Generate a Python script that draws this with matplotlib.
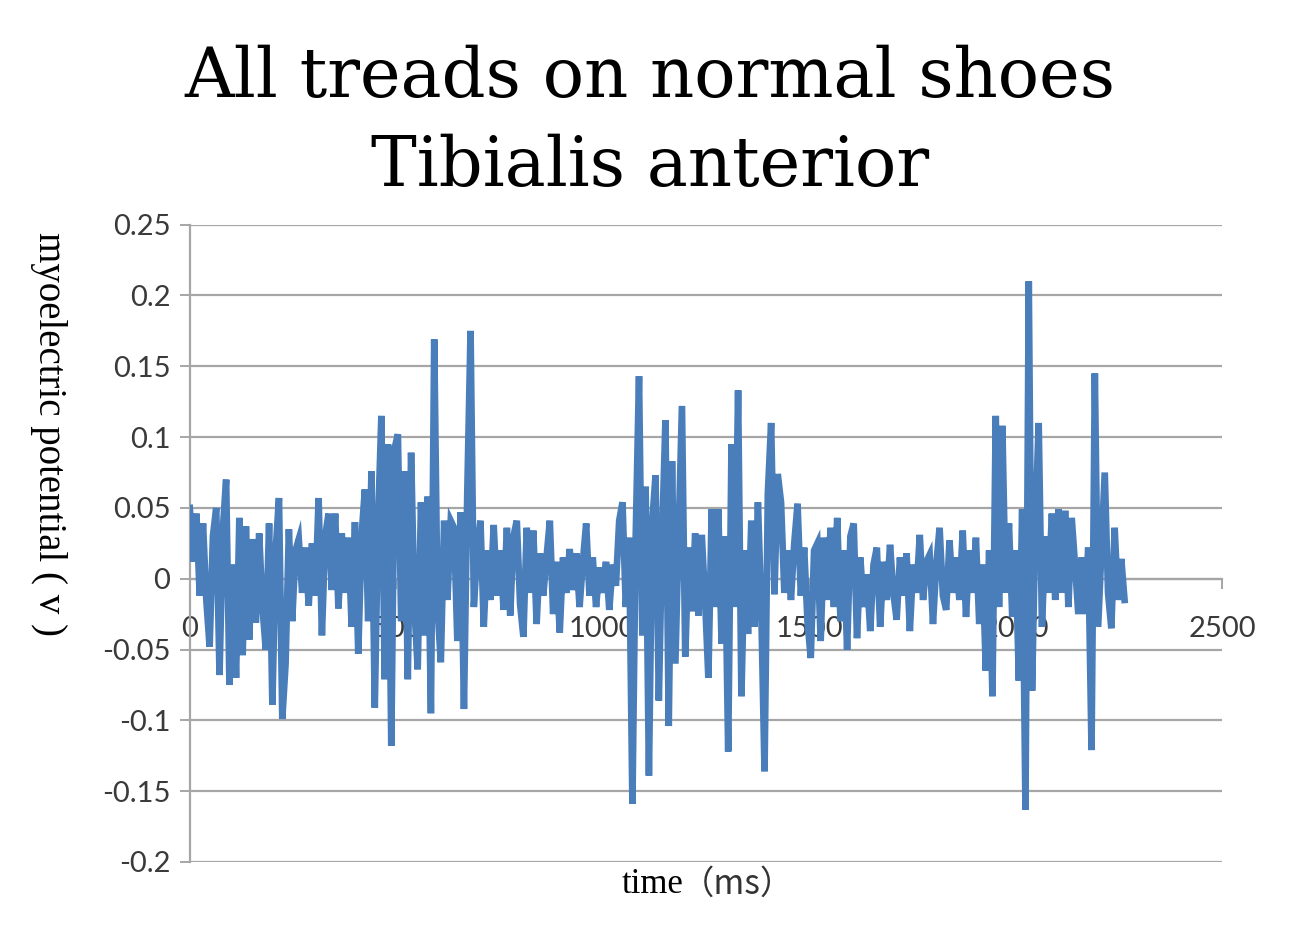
import matplotlib
matplotlib.use("Agg")
import matplotlib.pyplot as plt
import numpy as np

sample_ms = 8
potential_v = [
    0.050, 0.012, 0.046, -0.012, 0.039, -0.015, -0.048, 0.030, 0.050, -0.068,
    0.035, 0.070, -0.075, 0.010, -0.070, 0.043, -0.054, 0.037, -0.043, 0.028,
    -0.031, 0.032, -0.020, -0.050, 0.039, -0.089, 0.020, 0.057, -0.099, -0.060,
    0.035, -0.030, 0.020, 0.028, -0.010, 0.022, -0.019, 0.025, -0.012, 0.057,
    -0.040, 0.030, 0.046, -0.008, 0.046, -0.021, 0.032, -0.010, 0.029, -0.034,
    0.040, -0.053, 0.030, 0.063, -0.030, 0.076, -0.091, 0.040, 0.115, -0.071,
    0.095, -0.118, 0.092, 0.102, -0.030, 0.076, -0.071, 0.089, -0.020, -0.064,
    0.054, -0.040, 0.058, -0.095, 0.169, -0.020, -0.059, 0.041, -0.015, 0.041,
    0.036, -0.044, 0.047, -0.092, 0.060, 0.175, -0.020, 0.020, 0.041, -0.034,
    0.020, -0.015, 0.038, -0.012, 0.020, -0.022, 0.036, -0.026, 0.030, 0.041,
    -0.018, -0.041, 0.036, -0.010, 0.034, -0.032, 0.018, -0.012, 0.015, 0.041,
    -0.025, 0.012, -0.038, 0.015, -0.010, 0.021, -0.008, 0.018, -0.020, 0.012,
    0.039, -0.012, 0.015, -0.020, 0.008, -0.010, 0.012, -0.022, 0.010, -0.005,
    0.041, 0.054, -0.020, 0.029, -0.159, 0.030, 0.143, -0.040, 0.065, -0.139,
    0.040, 0.073, -0.086, 0.030, 0.112, -0.104, 0.083, -0.060, 0.030, 0.122,
    -0.055, 0.022, -0.023, 0.032, -0.026, 0.031, -0.015, -0.070, 0.049, -0.020,
    0.049, -0.046, 0.030, -0.122, 0.095, -0.020, 0.133, -0.083, 0.020, -0.039,
    0.041, -0.034, 0.054, -0.020, -0.136, 0.060, 0.110, -0.011, 0.074, 0.054,
    -0.010, 0.020, -0.015, 0.025, 0.053, -0.012, 0.022, -0.030, -0.056, 0.020,
    0.025, -0.044, 0.029, -0.015, 0.036, -0.020, 0.043, -0.030, 0.020, -0.050,
    0.030, 0.039, -0.042, 0.015, -0.020, 0.003, -0.037, 0.010, 0.022, -0.034,
    0.012, -0.015, 0.024, -0.010, -0.029, 0.015, -0.012, 0.018, -0.037, 0.010,
    -0.010, 0.031, -0.015, 0.012, 0.017, -0.032, 0.010, 0.036, -0.012, -0.022,
    0.027, -0.010, 0.015, -0.015, 0.034, -0.027, 0.020, -0.010, 0.029, -0.032,
    0.010, -0.065, 0.020, -0.083, 0.115, -0.020, 0.108, -0.010, 0.039, -0.027,
    0.020, -0.072, 0.049, -0.163, 0.210, -0.079, 0.040, 0.110, -0.034, 0.030,
    -0.010, 0.046, -0.015, 0.049, -0.010, 0.048, -0.020, 0.043, 0.010, -0.025,
    0.015, -0.025, 0.022, -0.121, 0.145, -0.034, 0.020, 0.075, -0.010, -0.035,
    0.036, -0.015, 0.014, -0.015,
]
time_ms = np.arange(len(potential_v)) * sample_ms

y_ticks = [-0.2, -0.15, -0.1, -0.05, 0, 0.05, 0.1, 0.15, 0.2, 0.25]
y_labels = ["-0.2", "-0.15", "-0.1", "-0.05", "0", "0.05", "0.1", "0.15", "0.2", "0.25"]
x_ticks = [0, 500, 1000, 1500, 2000, 2500]

fig = plt.figure(figsize=(13, 9.4), dpi=100)
ax = fig.add_axes([0.146, 0.083, 0.794, 0.678])

ax.plot(time_ms, potential_v, color="#4a7ebb", lw=4.8, zorder=3,
        solid_joinstyle="miter")

ax.set_xlim(0, 2500)
ax.set_ylim(-0.2, 0.25)
ax.set_yticks(y_ticks)
ax.set_yticklabels(y_labels)
ax.set_xticks(x_ticks)
ax.yaxis.grid(True, color="#a6a6a6", lw=1.6)
ax.set_axisbelow(True)

for side in ("top", "right"):
    ax.spines[side].set_visible(False)
ax.spines["left"].set_color("#a6a6a6")
ax.spines["left"].set_linewidth(1.6)
ax.spines["bottom"].set_position(("data", 0))
ax.spines["bottom"].set_color("#a6a6a6")
ax.spines["bottom"].set_linewidth(1.6)

ax.tick_params(axis="y", length=7, width=1.4, color="#a6a6a6", pad=7,
               labelsize=21, labelcolor="#3a3a3a")
ax.tick_params(axis="x", length=7, width=1.4, color="#a6a6a6", pad=20,
               labelsize=21, labelcolor="#3a3a3a")
for lab in ax.get_xticklabels() + ax.get_yticklabels():
    lab.set_fontfamily("Lato")

fig.text(0.5, 0.917, "All treads on normal shoes", ha="center", va="center",
         fontsize=49.5, family="DejaVu Serif")
fig.text(0.5, 0.823, "Tibialis anterior", ha="center", va="center",
         fontsize=49.5, family="DejaVu Serif")

fig.text(0.037, 0.538, "myoelectric potential ( v )", rotation=270,
         ha="center", va="center", fontsize=28, family="Liberation Serif")

fig.text(0.526, 0.059, "time", ha="right", va="center", fontsize=25,
         family="Liberation Serif")
fig.text(0.524, 0.059, "（ms）", ha="left", va="center", fontsize=24,
         family="Noto Sans CJK JP", color="#333333")

fig.savefig("out.png", dpi=100)
